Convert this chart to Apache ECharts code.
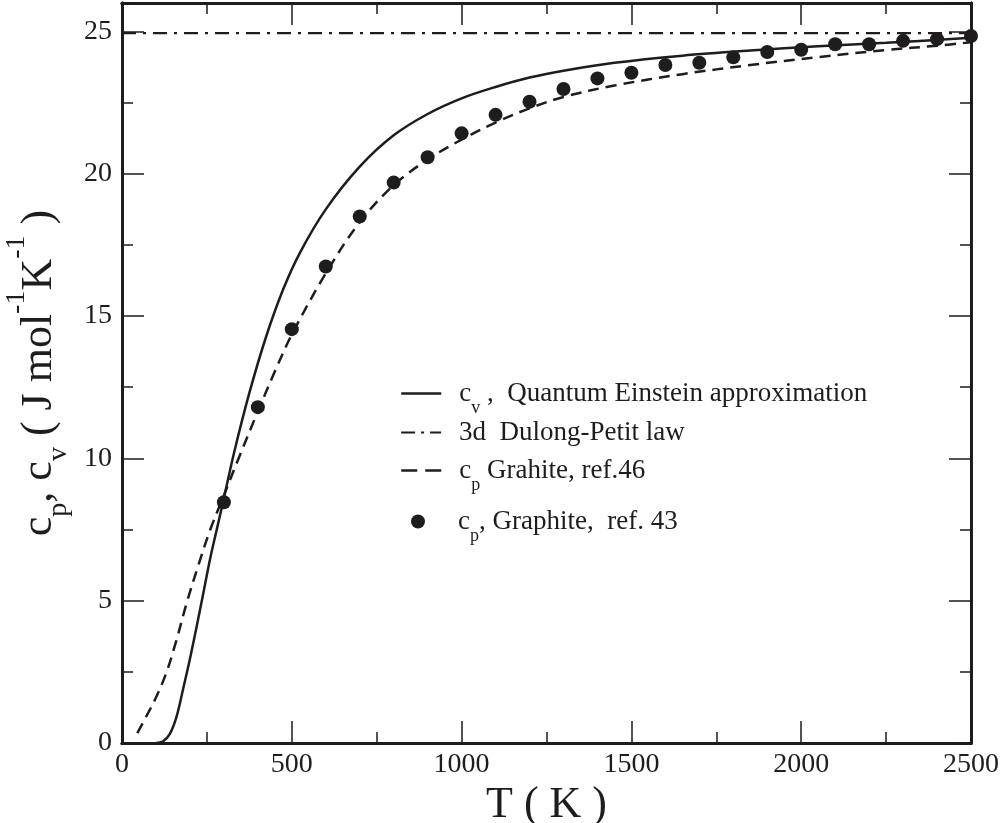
<!DOCTYPE html>
<html>
<head>
<meta charset="utf-8">
<script src="https://cdn.jsdelivr.net/npm/echarts@6/dist/echarts.min.js"></script>
<style>
html,body{margin:0;padding:0;background:#fff;}
#chart{width:1000px;height:823px;}
</style>
</head>
<body>
<div id="chart"></div>
<script>
// ---- data ----
const cvEinstein = [
  [100,0],[120,0.05],[140,0.3],[160,0.9],[180,1.9],[200,2.95],[220,4.1],[240,5.3],
  [260,6.5],[280,7.55],[300,8.6],[330,10.2],[375,12.3],[425,14.3],[475,15.95],
  [525,17.25],[600,18.75],[700,20.25],[800,21.35],[900,22.1],[1000,22.65],[1100,23.05],
  [1200,23.38],[1300,23.62],[1450,23.9],[1650,24.15],[1850,24.33],[2050,24.48],
  [2250,24.6],[2500,24.78]
];
const dulongPetit = [[0,24.94],[2500,24.94]];
const cpRef46 = [
  [45,0.35],[70,0.9],[100,1.6],[130,2.45],[160,3.6],[190,4.9],[225,6.25],[260,7.5],
  [300,8.7],[340,9.9],[400,11.65],[450,13.05],[500,14.35],[600,16.5],[700,18.3],
  [800,19.6],[900,20.5],[1000,21.2],[1100,21.8],[1200,22.3],[1300,22.7],[1450,23.1],
  [1650,23.5],[1850,23.82],[2050,24.1],[2250,24.35],[2400,24.5],[2500,24.62]
];
const cpRef43 = [
  [300,8.46],[400,11.8],[500,14.54],[600,16.74],[700,18.5],[800,19.69],[900,20.58],
  [1000,21.42],[1100,22.07],[1200,22.53],[1300,22.98],[1400,23.35],[1500,23.55],
  [1600,23.82],[1700,23.9],[1800,24.09],[1900,24.28],[2000,24.36],[2100,24.55],
  [2200,24.55],[2300,24.67],[2400,24.73],[2500,24.84]
];
const seriesNames = ['cv','dp','cp46','cp43'];
const legendLabels = {
  cv:   '{lead|}{b|c}{sub|v}{b| ,  Quantum Einstein approximation}',
  dp:   '{lead|}{b|3d  Dulong-Petit law}',
  cp46: '{lead|}{b|c}{sub|p}{b| Grahite, ref.46}',
  cp43: '{lead4|}{b|c}{sub|p}{b|, Graphite,  ref. 43}'
};
const legendRowTop = [380, 419, 457, 508];
const legendRowLeft = [400, 400, 400, 411];
const xTitle = 'T ( K )';
const yTitle = '{b|c}{sub|p}{b|, c}{sub|v}{b| ( J mol}{sup|-1}{b|K}{sup|-1}{b| )}';

const INK = '#1e1c1d';
const FONT = 'Liberation Serif';

const chart = echarts.init(document.getElementById('chart'), null, {renderer:'canvas'});

function xAx(pos, interval, len, labels, name){
  return {
    type:'value', min:0, max:2500, interval:interval, position:pos, gridIndex:0,
    axisLine:{show:true, onZero:false, lineStyle:{color:INK, width:3}},
    axisTick:{show:true, inside:true, length:len, lineStyle:{color:INK, width:1.5}},
    splitLine:{show:false},
    axisLabel:{show:labels, color:INK, fontFamily:FONT, fontSize:28, margin:8,
      formatter:function(v){ return String(v); }},
    name:name||'', nameLocation:'middle', nameGap:35,
    nameTextStyle:{color:INK, fontFamily:FONT, fontSize:44}
  };
}
function yAx(pos, interval, len, labels, name){
  return {
    type:'value', min:0, max:26, interval:interval, position:pos, gridIndex:0,
    axisLine:{show:true, onZero:false, lineStyle:{color:INK, width:3}},
    axisTick:{show:true, inside:true, length:len, lineStyle:{color:INK, width:1.5}},
    splitLine:{show:false},
    axisLabel:{show:labels, color:INK, fontFamily:FONT, fontSize:28, margin:10, showMaxLabel:false,
      formatter:function(v){ return String(v); }},
    name:name||'', nameLocation:'middle', nameGap:46, nameRotate:90,
    nameTextStyle:{color:INK, fontFamily:FONT, fontSize:44,
      rich:{
        b:{fontFamily:FONT, fontSize:44, color:INK},
        sub:{fontFamily:FONT, fontSize:28, color:INK, padding:[40,0,0,0]},
        sup:{fontFamily:FONT, fontSize:28, color:INK, padding:[0,0,45,0]}
      }}
  };
}

const legendRich = {
  lead:{width:13},
  lead4:{width:15},
  b:{fontFamily:FONT, fontSize:27, color:INK},
  sub:{fontFamily:FONT, fontSize:18, color:INK, padding:[30,0,0,0]}
};
const legendItemStyle = {
  cv:{lineStyle:{type:'solid', width:2.5}, itemStyle:{opacity:0}},
  dp:{lineStyle:{type:[14,6,3,6], width:2.2}, itemStyle:{opacity:0}},
  cp46:{lineStyle:{type:[16,8], width:2.5}, itemStyle:{opacity:0}},
  cp43:{}
};
const legends = seriesNames.map(function(n, i){
  return {
    orient:'vertical', left:legendRowLeft[i], top:legendRowTop[i], padding:0,
    itemWidth:40, itemHeight:14, selectedMode:false,
    textStyle:{fontFamily:FONT, fontSize:27, color:INK, rich:legendRich},
    formatter:function(nm){ return legendLabels[nm]; },
    data:[Object.assign({name:n}, legendItemStyle[n])]
  };
});

chart.setOption({
  animation:false,
  backgroundColor:'#fff',
  grid:{left:122, right:29, top:3, bottom:80, containLabel:false, outerBoundsMode:'none'},
  xAxis:[
    xAx('bottom', 500, 22, true, xTitle),
    xAx('bottom', 250, 11, false),
    xAx('top', 500, 22, false),
    xAx('top', 250, 11, false)
  ],
  yAxis:[
    yAx('left', 5, 22, true, yTitle),
    yAx('left', 2.5, 11, false),
    yAx('right', 5, 22, false),
    yAx('right', 2.5, 11, false)
  ],
  legend:legends,
  series:[
    {name:seriesNames[0], type:'line', data:cvEinstein, showSymbol:false, symbol:'none',
     smooth:0.35,
     lineStyle:{color:INK, width:2.5, type:'solid'}, itemStyle:{color:INK}, z:3},
    {name:seriesNames[1], type:'line', data:dulongPetit, showSymbol:false, symbol:'none',
     lineStyle:{color:INK, width:2.2, type:[14,7,3,7]}, itemStyle:{color:INK}, z:3},
    {name:seriesNames[2], type:'line', data:cpRef46, showSymbol:false, symbol:'none',
     smooth:0.35,
     lineStyle:{color:INK, width:2.5, type:[11,7]}, itemStyle:{color:INK}, z:3},
    {name:seriesNames[3], type:'scatter', data:cpRef43, symbol:'circle', symbolSize:14,
     itemStyle:{color:INK, opacity:1}, z:4}
  ]
});
</script>
</body>
</html>
